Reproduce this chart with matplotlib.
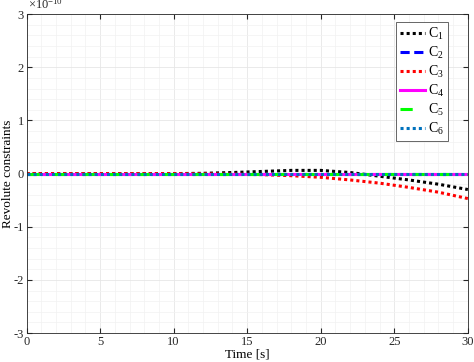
import numpy as np
import matplotlib
matplotlib.use('Agg')
import matplotlib.pyplot as plt
from matplotlib.ticker import FuncFormatter, MultipleLocator

plt.rcParams['font.family'] = ['Liberation Serif', 'DejaVu Serif']
plt.rcParams['mathtext.fontset'] = 'custom'
plt.rcParams['mathtext.rm'] = 'Liberation Serif'
plt.rcParams['mathtext.it'] = 'Liberation Serif'
plt.rcParams['axes.unicode_minus'] = False

# time samples [s]
t = [0, 10, 12, 14, 16, 18, 20, 22, 24, 26, 28, 30]
# constraint values (x 1e-10)
c1 = [0, 0, 0.005, 0.02, 0.04, 0.06, 0.06, 0.02, -0.05, -0.12, -0.2, -0.3]
c2 = [0] * len(t)
c3 = [0, 0, -0.005, -0.01, -0.02, -0.04, -0.07, -0.12, -0.18, -0.26, -0.35, -0.47]
c4 = [0] * len(t)
c5 = [0] * len(t)
c6 = [0] * len(t)

scale = 1e-10
fig = plt.figure(figsize=(4.74, 3.62), dpi=100)
ax = fig.add_axes([0.056, 0.08, 0.931, 0.881])

tt = np.array(t)
lw = 2.2
ax.plot(tt, np.array(c1) * scale, color='black', ls=(0, (1, 1)), lw=lw, label='C$_1$')
ax.plot(tt, np.array(c2) * scale, color='blue', ls=(0, (3, 1.5)), lw=lw, label='C$_2$')
ax.plot(tt, np.array(c3) * scale, color='red', ls=(0, (1, 1)), lw=lw, label='C$_3$')
ax.plot(tt, np.array(c4) * scale, color='magenta', ls='-', lw=lw, label='C$_4$')
ax.plot(tt, np.array(c5) * scale, color='#00ff00', ls=(0, (4, 5)), lw=lw, label='C$_5$')
ax.plot(tt, np.array(c6) * scale, color='#0072bd', ls=(0, (1, 1)), lw=lw, label='C$_6$')

ax.set_xlim(0, 30)
ax.set_ylim(-3e-10, 3e-10)
ax.xaxis.set_major_locator(MultipleLocator(5))
ax.xaxis.set_minor_locator(MultipleLocator(1))
ax.yaxis.set_major_locator(MultipleLocator(1e-10))
ax.yaxis.set_minor_locator(MultipleLocator(0.2e-10))
ax.yaxis.set_major_formatter(FuncFormatter(lambda v, p: '%g' % round(v / scale, 6)))
ax.text(0.003, 1.008, r'$\times$10$^{-10}$', transform=ax.transAxes,
        fontsize=9, ha='left', va='bottom', color='#262626')

ax.grid(True, which='major', color='#e6e6e6', lw=0.6)
ax.grid(True, which='minor', color='#f2f2f2', lw=0.5)
ax.set_axisbelow(True)
ax.tick_params(which='both', direction='in', top=True, right=True, labelsize=9,
               colors='#262626', pad=2)
ax.tick_params(which='minor', length=0)
for s in ax.spines.values():
    s.set_color('#262626')
    s.set_linewidth(0.6)

ax.set_xlabel('Time [s]', fontsize=9.5, va='center')
ax.set_ylabel('Revolute constraints', fontsize=9.5, va='center')
ax.xaxis.set_label_coords(0.5, -0.066)
ax.yaxis.set_label_coords(-0.043, 0.5)

leg = ax.legend(loc='upper right', bbox_to_anchor=(0.955, 0.975), fontsize=10,
                fancybox=False, framealpha=1, edgecolor='#4d4d4d', handlelength=1.8,
                labelspacing=0.2, borderpad=0.3, handletextpad=0.2, borderaxespad=0)
leg.get_frame().set_linewidth(0.6)

fig.savefig('out.png', dpi=100)
